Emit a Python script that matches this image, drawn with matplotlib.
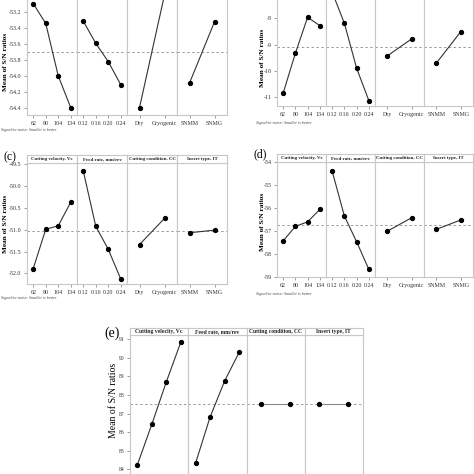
import matplotlib
matplotlib.use("Agg")
import matplotlib.pyplot as plt

plt.rcParams['font.family'] = ['Liberation Serif', 'DejaVu Serif']

W = 474.0

factor_titles = ["Cutting velocity, Vc", "Feed rate, mm/rev", "Cutting condition, CC", "Insert type, IT"]
velocity_labels = ["62", "80", "104", "134"]
feed_labels = ["0.12", "0.16", "0.20", "0.24"]
condition_labels = ["Dry", "Cryogenic"]
insert_labels = ["SNMM", "SNMG"]

a_velocity = [-53.09, -53.34, -54.00, -54.40]
a_feed = [-53.31, -53.59, -53.82, -54.11]
a_condition = [-54.40, -52.98]
a_insert = [-54.09, -53.32]
a_mean = -53.70
a_yticks = [-53.2, -53.4, -53.6, -53.8, -54.0, -54.2, -54.4]

b_velocity = [-10.85, -9.33, -7.96, -8.28]
b_feed = [-7.00, -8.19, -9.90, -11.13]
b_condition = [-9.43, -8.78]
b_insert = [-9.71, -8.51]
b_mean = -9.08
b_yticks = [-8, -9, -10, -11]

c_velocity = [-51.89, -50.99, -50.91, -50.37]
c_feed = [-49.65, -50.92, -51.45, -52.13]
c_condition = [-51.34, -50.74]
c_insert = [-51.07, -51.01]
c_mean = -51.03
c_yticks = [-49.5, -50.0, -50.5, -51.0, -51.5, -52.0]

d_velocity = [-57.43, -56.80, -56.60, -56.06]
d_feed = [-54.39, -56.35, -57.47, -58.67]
d_condition = [-57.01, -56.42]
d_insert = [-56.93, -56.52]
d_mean = -56.72
d_yticks = [-54, -55, -56, -57, -58, -59]

e_velocity = [84.22, 86.42, 88.72, 90.88]
e_feed = [84.31, 86.81, 88.76, 90.31]
e_condition = [87.51, 87.51]
e_insert = [87.51, 87.51]
e_mean = 87.51
e_yticks = [91, 90, 89, 88, 87, 86, 85, 84]

footer = "Signal-to-noise: Smaller is better"
ylabel = "Mean of S/N ratios"
gray = "#c8c8c8"


def group(fig, left, right, top, bottom, ylim, yticks, fmt, series, mean,
          strip_h=0, tsize=4.3, ssize=3.6, flat_gray=False, xlabels=True):
    w = (right - left) / 4
    labels = [velocity_labels, feed_labels, condition_labels, insert_labels]
    first = None
    for i in range(4):
        x0 = left + i * w
        ax = fig.add_axes([x0 / W, 1 - bottom / W, w / W, (bottom - top) / W],
                          sharey=first)
        if first is None:
            first = ax
        vals = series[i]
        xs = list(range(len(vals)))
        ax.axhline(mean, color="#9a9a9a", lw=0.7, ls=(0, (2.5, 2.5)), zorder=1)
        lc = "#333333"
        if flat_gray and len(vals) == 2:
            lc = "#8a8a8a"
        ax.plot(xs, vals, color=lc, lw=0.8, zorder=2)
        ax.plot(xs, vals, "o", color="black", ms=2.8, zorder=3)
        ax.set_xlim(-0.5, len(vals) - 0.5)
        ax.set_ylim(*ylim)
        ax.set_xticks(xs)
        ax.set_xticklabels(labels[i], fontsize=tsize, color="#333333")
        for s in ax.spines.values():
            s.set_color(gray)
            s.set_linewidth(0.8)
        ax.tick_params(axis="x", length=2, width=0.5, color="#777777", pad=2,
                       labelbottom=xlabels)
        if i == 0:
            ax.set_yticks(yticks)
            ax.set_yticklabels([fmt.format(v) for v in yticks], fontsize=tsize,
                               color="#333333")
            ax.tick_params(axis="y", length=2, width=0.5, color="#777777", pad=2)
        else:
            ax.tick_params(axis="y", left=False, labelleft=False)
        if strip_h:
            sx = fig.add_axes([x0 / W, 1 - top / W, w / W, strip_h / W])
            sx.set_xticks([])
            sx.set_yticks([])
            for s in sx.spines.values():
                s.set_color(gray)
                s.set_linewidth(0.8)
            sx.text(0.5, 0.45, factor_titles[i], ha="center", va="center",
                    fontsize=ssize, fontweight="bold", color="#222222",
                    transform=sx.transAxes)


fig = plt.figure(figsize=(4.74, 4.74), dpi=100)

# (a) top-left, top cut off
group(fig, 27, 227, -10, 115, (-54.492, -52.919), a_yticks, "{:.1f}",
      [a_velocity, a_feed, a_condition, a_insert], a_mean)
fig.text(6 / W, 1 - 62 / W, ylabel, rotation=90, ha="center", va="center",
         fontsize=5.2, fontweight="bold")
fig.text(1 / W, 1 - 130 / W, footer, fontsize=3, style="italic", color="#444444",
         va="center")

# (b) top-right, top cut off
group(fig, 277, 473, -15, 106, (-11.335, -6.734), b_yticks, "{:d}",
      [b_velocity, b_feed, b_condition, b_insert], b_mean)
fig.text(262 / W, 1 - 58 / W, ylabel, rotation=90, ha="center", va="center",
         fontsize=5.2, fontweight="bold")
fig.text(256 / W, 1 - 123 / W, footer, fontsize=3, style="italic", color="#444444",
         va="center")

# (c)
group(fig, 27, 227, 163, 284, (-52.245, -49.47), c_yticks, "{:.1f}",
      [c_velocity, c_feed, c_condition, c_insert], c_mean, strip_h=8)
fig.text(6 / W, 1 - 224 / W, ylabel, rotation=90, ha="center", va="center",
         fontsize=5.2, fontweight="bold")
fig.text(3 / W, 1 - 157 / W, "(c)", fontsize=8.5, ha="left", va="center")
fig.text(1 / W, 1 - 298 / W, footer, fontsize=3, style="italic", color="#444444",
         va="center")

# (d)
group(fig, 277, 473, 162, 277, (-59.0, -54.0), d_yticks, "{:d}",
      [d_velocity, d_feed, d_condition, d_insert], d_mean, strip_h=8)
fig.text(262 / W, 1 - 222 / W, ylabel, rotation=90, ha="center", va="center",
         fontsize=5.2, fontweight="bold")
fig.text(253 / W, 1 - 154 / W, "(d)", fontsize=8.5, ha="left", va="center")
fig.text(256 / W, 1 - 294 / W, footer, fontsize=3, style="italic", color="#444444",
         va="center")

# (e) bottom centre, bottom cut off
group(fig, 130, 363, 335, 480, (83.41, 91.24), e_yticks, "{:d}",
      [e_velocity, e_feed, e_condition, e_insert], e_mean, strip_h=7,
      tsize=4.0, ssize=4.1, flat_gray=True, xlabels=False)
fig.text(113 / W, 1 - 400 / W, ylabel, rotation=90, ha="center", va="center",
         fontsize=7)
fig.text(104 / W, 1 - 333 / W, "(e)", fontsize=10, ha="left", va="center")

fig.savefig("out.png", dpi=100)
